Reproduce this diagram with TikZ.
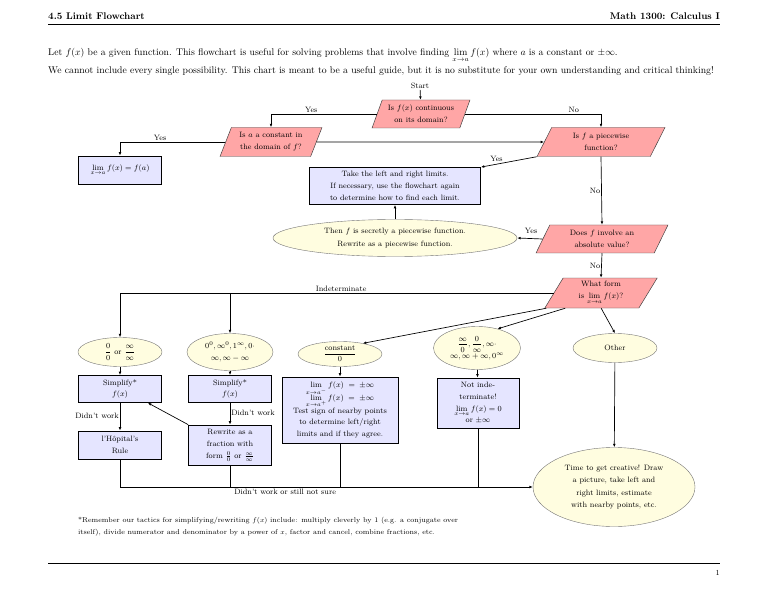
\documentclass[tikz,border=0pt]{standalone}
\usepackage{amsmath}
\usetikzlibrary{shapes.geometric,arrows.meta,calc}
\def\pxu{1.03125pt}
\tikzset{
  base/.style={font=\fontsize{8}{12.5}\selectfont, align=center, inner sep=1pt},
  decision/.style={base, trapezium, trapezium left angle=66, trapezium right angle=114,
     trapezium stretches=true, draw=black!75, fill=red!35, line width=0.5pt},
  procbox/.style={base, rectangle, draw=black, fill=blue!10, line width=0.8pt},
  oval/.style={base, ellipse, draw=black!55, fill=yellow!12, line width=0.4pt, inner sep=0pt},
  conn/.style={line width=0.7pt, -{Latex[length=3.5pt,width=2.8pt]}},
  plain/.style={line width=0.7pt},
  lbl/.style={font=\fontsize{8}{10}\selectfont, inner sep=1pt},
  sz/.style 2 args={minimum width=#1*\pxu, minimum height=#2*\pxu},
}
\begin{document}
\begin{tikzpicture}[x=1.03125pt,y=-1.03125pt]
\useasboundingbox[fill=white] (0,0) rectangle (768,594);
% header
\node[anchor=base west, inner sep=0pt, font=\bfseries] (hl) at (48,19.5) {4.5 Limit Flowchart};
\node[anchor=base east, inner sep=0pt, font=\bfseries] (hr) at (720,19.5) {Math 1300: Calculus I};
\draw[line width=0.9pt] (48,24.3) -- (720,24.3);
% intro
\node[anchor=base west, inner sep=0pt] (i1) at (48,56) {Let $f(x)$ be a given function. This flowchart is useful for solving problems that involve finding $\lim\limits_{x\to a} f(x)$ where $a$ is a constant or $\pm\infty$.};
\node[anchor=base west, inner sep=0pt] (i2) at (48,74) {We cannot include every single possibility. This chart is meant to be a useful guide, but it is no substitute for your own understanding and critical thinking!};
% start
\node[lbl] (start) at (420,86) {Start};
% decisions
\node[decision, sz={98}{28}] (Q1) at (421,114) {Is $f(x)$ continuous\\on its domain?};
\node[decision, sz={102}{29}] (Q2) at (271,142) {Is $a$ a constant in\\the domain of $f$?};
\node[decision, sz={128}{29}] (Q3) at (601,142) {Is $f$ a piecewise\\function?};
\node[decision, sz={132}{28}] (Q4) at (602,239) {Does $f$ involve an\\absolute value?};
\node[decision, sz={113}{30}] (Q5) at (601,293) {What form\\is $\lim\limits_{x\to a} f(x)$?};
% boxes
\node[procbox, sz={83}{28}] (A1) at (120,170) {$\lim\limits_{x\to a} f(x) = f(a)$};
\node[procbox, sz={171}{37}] (B1) at (395,186) {Take the left and right limits.\\If necessary, use the flowchart again\\to determine how to find each limit.};
\node[oval, sz={244}{37}] (E1) at (395,238) {Then $f$ is secretly a piecewise function.\\Rewrite as a piecewise function.};
% forms
\node[oval, sz={84}{29}] (O1) at (120,352) {$\dfrac{0}{0}$ or $\dfrac{\infty}{\infty}$};
\node[oval, sz={86}{37}] (O2) at (230,352) {$0^0, \infty^0, 1^\infty, 0\cdot$\\$\infty, \infty-\infty$};
\node[oval, sz={84}{25}] (O3) at (340,354) {$\dfrac{\text{constant}}{0}$};
\node[oval, sz={87}{43}, font=\fontsize{8}{9}\selectfont] (O4) at (477,348) {$\dfrac{\infty}{0}, \dfrac{0}{\infty}, \infty\cdot$\\$\infty, \infty+\infty, 0^\infty$};
\node[oval, sz={84}{29}] (O5) at (615,348) {Other};
% second row
\node[procbox, sz={83}{27}, font=\fontsize{8}{11}\selectfont] (S1) at (120,389) {Simplify*\\$f(x)$};
\node[procbox, sz={83}{27}, font=\fontsize{8}{11}\selectfont] (S2) at (230,389) {Simplify*\\$f(x)$};
\node[procbox, sz={83}{28}] (L1) at (120,445) {l'H\^opital's\\Rule};
\node[procbox, sz={83}{40}] (R1) at (230,445) {Rewrite as a\\fraction with\\form $\frac{0}{0}$ or $\frac{\infty}{\infty}$};
\node[procbox, sz={116}{66}, inner sep=0.5pt, font=\fontsize{8}{12}\selectfont] (C1) at (340,410) {$\lim\limits_{x\to a^-} f(x) \;=\; \pm\infty$\\[-1.5pt]$\lim\limits_{x\to a^+} f(x) \;=\; \pm\infty$\\[-1pt]Test sign of nearby points\\to determine left/right\\limits and if they agree.};
\node[procbox, sz={82}{50}, font=\fontsize{8}{12}\selectfont] (N1) at (478,403) {Not inde-\\terminate!\\$\lim\limits_{x\to a} f(x) = 0$\\or $\pm\infty$};
\node[oval, sz={162}{79}] (T1) at (614,487) {Time to get creative! Draw\\a picture, take left and\\right limits, estimate\\with nearby points, etc.};
% connectors
\draw[conn] (start) -- (Q1);
\draw[conn] (Q1.west) -| node[lbl, pos=0.31, above] {Yes} (Q2.north);
\draw[conn] (Q1.east) -| node[lbl, pos=0.4, above] {No} (Q3.north);
\draw[conn] (Q2.west) -| node[lbl, pos=0.31, above] {Yes} (A1.north);
\draw[conn] (Q2.east) -- (Q3.west);
\draw[conn] (Q3.bottom left corner) -- node[lbl, pos=0.72, above, yshift=1pt] {Yes} (B1.north east);
\draw[conn] (Q3.south) -- node[lbl, left] {No} (Q4.north);
\draw[conn] (Q4.west) -- node[lbl, above, pos=0.45, yshift=4pt] {Yes} (E1.east);
\draw[conn] (E1.north) -- (B1.south);
\draw[conn] (Q4.south) -- node[lbl, left] {No} (Q5.north);
\draw[conn] (Q5.west) -| node[lbl, pos=0.245, above] {Indeterminate} (O1.north);
\draw[conn] (O2.north |- Q5.west) -- (O2.north);
\draw[conn] ($(Q5.bottom left corner)!0.02!(Q5.bottom right corner)$) -- (O3.25);
\draw[conn] ($(Q5.bottom left corner)!0.22!(Q5.bottom right corner)$) -- (O4.43);
\draw[conn] ($(Q5.bottom left corner)!0.6!(Q5.bottom right corner)$) -- (O5.north);
\draw[conn] (O1) -- (S1);
\draw[conn] (O2) -- (S2);
\draw[conn] (O3) -- (C1);
\draw[conn] (O4) -- (N1);
\draw[conn] (S1) -- node[lbl, left, pos=0.45] {Didn't work} (L1);
\draw[conn] (S2) -- node[lbl, right, pos=0.45] {Didn't work} (R1);
\draw[conn] (R1.north west) -- ($(S1.south east)+(-14,0)$);
\draw[conn] (L1.south) |- node[lbl, pos=0.7, below, yshift=-1pt] {Didn't work or still not sure} (T1.west);
\draw[plain] (R1.south) -- (R1.south |- T1.west);
\draw[plain] (C1.south) -- (C1.south |- T1.west);
\draw[plain] (N1.south) -- (N1.south |- T1.west);
\draw[conn] (O5) -- (T1);
% footnote
\node[anchor=base west, inner sep=0pt, font=\fontsize{7.3}{9}\selectfont] (fn1) at (78,522.5) {*Remember our tactics for simplifying/rewriting $f(x)$ include: multiply cleverly by 1 (e.g. a conjugate over};
\node[anchor=base west, inner sep=0pt, font=\fontsize{7.3}{9}\selectfont] (fn2) at (78,534.5) {itself), divide numerator and denominator by a power of $x$, factor and cancel, combine fractions, etc.};
\draw[line width=0.9pt] (48,563) -- (720,563);
\node[anchor=base east, inner sep=0pt, font=\fontsize{8}{10}\selectfont] (pg) at (720,575) {1};
\end{tikzpicture}
\end{document}
